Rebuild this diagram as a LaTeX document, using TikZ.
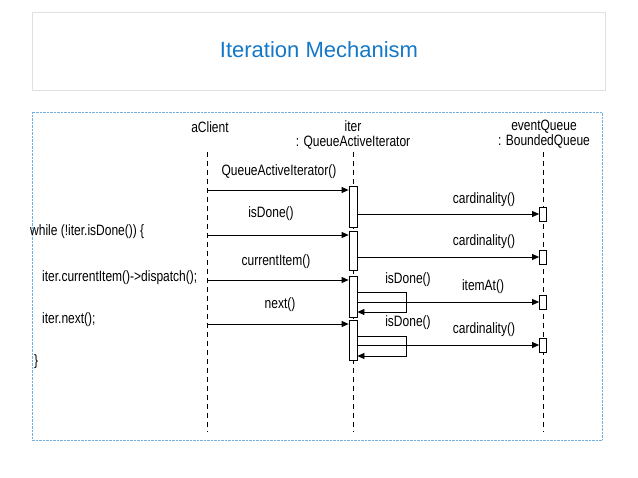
\documentclass[tikz,border=0pt]{standalone}
\usepackage{fontspec}
\setmainfont{Liberation Sans}
\newfontfamily\narrow{Liberation Sans}[FakeStretch=0.8]
\usetikzlibrary{positioning,arrows.meta}
\definecolor{titleblue}{RGB}{20,120,200}
\tikzset{
  lbl/.style={font=\narrow\fontsize{15}{15}\selectfont, inner sep=1pt},
  head/.style={lbl, align=center},
  life/.style={dash pattern=on 5pt off 4pt, thick},
  act/.style={draw, thick, fill=white, minimum width=8pt, inner sep=0pt},
  msg/.style={thick, -{Triangle[length=7pt,width=6pt]}},
  code/.style={lbl, anchor=west}
}
\begin{document}
\begin{tikzpicture}[x=1pt,y=-1pt]
\useasboundingbox (0,0) rectangle (638,478);
% frames
\draw[black!12] (32,12) rectangle (605,90);
\node[font=\fontsize{22}{24}\selectfont, text=titleblue] (title) at (319,50) {Iteration Mechanism};
\draw[titleblue!60, densely dotted] (32,112) rectangle (602,440);
% heads
\node[head] (client) at (210,127) {aClient};
\node[head, anchor=north] (iter) at (353,119) {iter\\: QueueActiveIterator};
\node[head, anchor=north] (queue) at (544,119) {eventQueue\\: BoundedQueue};
% lifelines
\coordinate (c0) at (207,152); \coordinate (c1) at (207,432);
\coordinate (i0) at (353,152); \coordinate (i1) at (353,432);
\coordinate (q0) at (543,152); \coordinate (q1) at (543,432);
\draw[life] (c0) -- (c1);
\draw[life] (i0) -- (i1);
\draw[life] (q0) -- (q1);
% activations on iter
\node[act, minimum height=41pt, anchor=north] (a1) at (353,186) {};
\node[act, minimum height=39pt, anchor=north] (a2) at (353,231) {};
\node[act, minimum height=41pt, anchor=north] (a3) at (353,276) {};
\node[act, minimum height=40pt, anchor=north] (a4) at (353,320) {};
% activations on eventQueue
\foreach \n/\y in {q1/214, q2/257, q3/302, q4/345}
  \node[act, minimum width=7pt, minimum height=14pt] (\n) at (543,\y) {};
% client calls
\foreach \a/\y in {a1/190, a2/235, a3/280, a4/324} {
  \coordinate (s\a) at (207,\y);
  \draw[msg] (s\a) -- (\a.west |- s\a);
}
\node[lbl] (m1) at (279,172) {QueueActiveIterator()};
\node[lbl] (m2) at (271,214) {isDone()};
\node[lbl] (m3) at (276,262) {currentItem()};
\node[lbl] (m4) at (280,305) {next()};
% calls to queue
\draw[msg] (a1.east |- q1) -- (q1.west);
\draw[msg] (a2.east |- q2) -- (q2.west);
\draw[msg] (a3.east |- q3) -- (q3.west);
\draw[msg] (a4.east |- q4) -- (q4.west);
\node[lbl] (n1) at (484,200) {cardinality()};
\node[lbl] (n2) at (484,242) {cardinality()};
\node[lbl] (n3) at (483,287) {itemAt()};
\node[lbl] (n4) at (484,330) {cardinality()};
% self calls
\draw[msg] (a3.east |- 0,292) -| (406,312) -- (a3.east |- 0,312);
\draw[msg] (a4.east |- 0,336) -| (406,356) -- (a4.east |- 0,356);
\node[lbl] (d1) at (408,280) {isDone()};
\node[lbl] (d2) at (408,323) {isDone()};
% client code
\node[code] (w) at (29,232) {while (!iter.isDone()) \{};
\node[code] (w1) at (41,278) {iter.currentItem()->dispatch();};
\node[code] (w2) at (41,320) {iter.next();};
\node[code] (w3) at (33,362) {\}};
\end{tikzpicture}
\end{document}
